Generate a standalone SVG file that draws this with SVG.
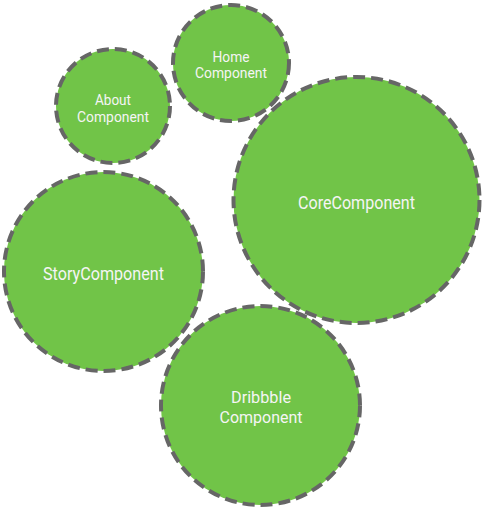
<svg xmlns="http://www.w3.org/2000/svg" width="484" height="510" viewBox="0 0 484 510">
<style>
.b{fill:#71c448;stroke:#666666;stroke-width:4;stroke-dasharray:12 6}
.t{font-family:Roboto,"Liberation Sans",sans-serif;fill:#f5f5f5;text-anchor:middle}
</style>
<rect width="484" height="510" fill="#ffffff"/>
<g id="connectors"/>
<g id="home"><circle class="b" cx="231" cy="63" r="58"/><text class="t" font-size="14" x="231" y="61.5" textLength="37" lengthAdjust="spacingAndGlyphs">Home</text><text class="t" font-size="14" x="231" y="78" textLength="72" lengthAdjust="spacingAndGlyphs">Component</text></g>
<g id="about"><circle class="b" cx="113" cy="106" r="57"/><text class="t" font-size="14" x="113" y="105" textLength="36" lengthAdjust="spacingAndGlyphs">About</text><text class="t" font-size="14" x="113" y="121.5" textLength="72" lengthAdjust="spacingAndGlyphs">Component</text></g>
<g id="core"><circle class="b" cx="356.5" cy="200" r="123"/><text class="t" font-size="18" x="356.5" y="208.5" textLength="117" lengthAdjust="spacingAndGlyphs">CoreComponent</text></g>
<g id="story"><circle class="b" cx="103.5" cy="271.5" r="99.5"/><text class="t" font-size="17.5" x="103.5" y="280" textLength="121" lengthAdjust="spacingAndGlyphs">StoryComponent</text></g>
<g id="dribbble"><circle class="b" cx="260.5" cy="405.5" r="99.5"/><text class="t" font-size="16" x="261" y="403" textLength="60" lengthAdjust="spacingAndGlyphs">Dribbble</text><text class="t" font-size="16" x="261" y="423" textLength="83" lengthAdjust="spacingAndGlyphs">Component</text></g>
</svg>
